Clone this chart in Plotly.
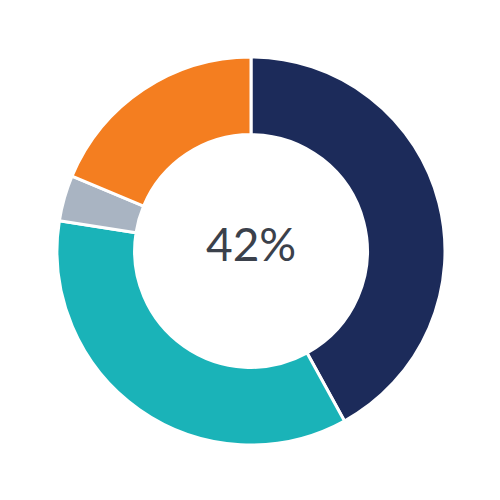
import plotly.graph_objects as go

# slice shares, clockwise from 12 o'clock
labels = ["Navy", "Teal", "Gray", "Orange"]
values = [42, 35.5, 3.8, 18.7]
colors = ["#1c2b5a", "#1ab3b8", "#a9b4c2", "#f47e20"]
center_text = "42%"

fig = go.Figure(
    go.Pie(
        labels=labels,
        values=values,
        hole=0.6,
        sort=False,
        direction="clockwise",
        rotation=0,
        marker=dict(colors=colors, line=dict(color="white", width=3)),
        textinfo="none",
        hoverinfo="label+percent",
        showlegend=False,
    )
)

# page body has an 8px margin, so shift the pie up/left to centre it
fig.update_layout(
    width=500,
    height=500,
    margin=dict(l=49, r=63, t=49, b=63),
    paper_bgcolor="white",
    plot_bgcolor="white",
    annotations=[
        dict(
            text=center_text,
            x=0.5,
            y=0.52,
            xref="paper",
            yref="paper",
            showarrow=False,
            font=dict(family="Lato", size=46, color="#3b414b"),
        )
    ],
)

fig.write_html("out.html")
